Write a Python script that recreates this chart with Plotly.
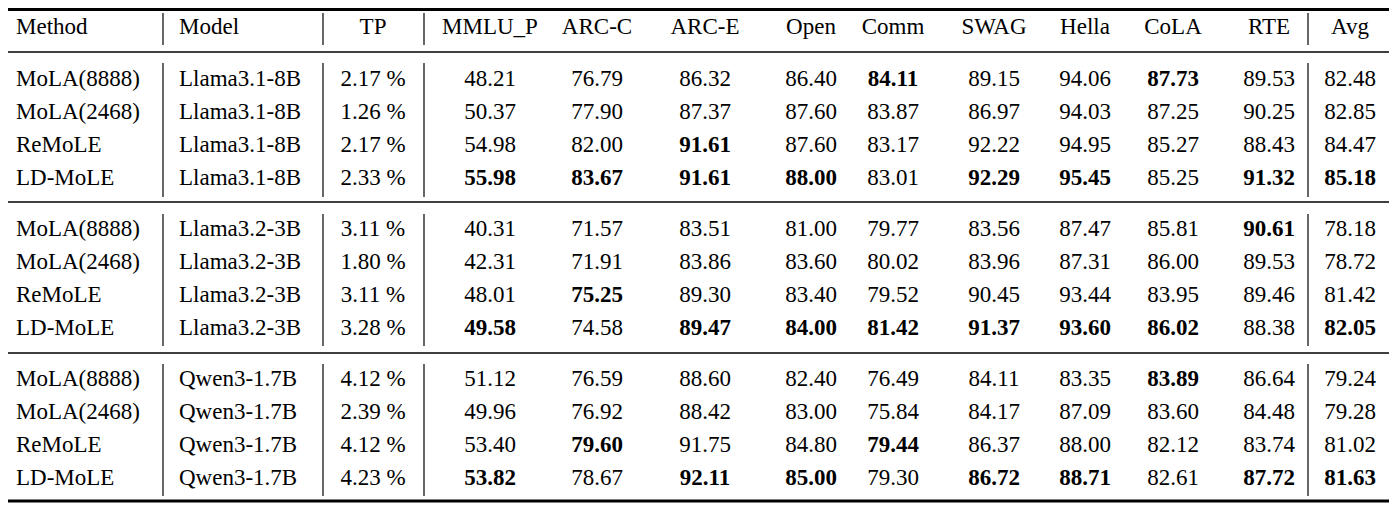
import plotly.graph_objects as go

methods = ["MoLA(8888)", "MoLA(2468)", "ReMoLE", "LD-MoLE"]
models = ["Llama3.1-8B", "Llama3.2-3B", "Qwen3-1.7B"]
tp = [[2.17, 1.26, 2.17, 2.33], [3.11, 1.80, 3.11, 3.28], [4.12, 2.39, 4.12, 4.23]]
metrics = ["MMLU_P", "ARC-C", "ARC-E", "Open", "Comm", "SWAG", "Hella", "CoLA", "RTE", "Avg"]
g1 = [[48.21, 76.79, 86.32, 86.40, 84.11, 89.15, 94.06, 87.73, 89.53, 82.48],
      [50.37, 77.90, 87.37, 87.60, 83.87, 86.97, 94.03, 87.25, 90.25, 82.85],
      [54.98, 82.00, 91.61, 87.60, 83.17, 92.22, 94.95, 85.27, 88.43, 84.47],
      [55.98, 83.67, 91.61, 88.00, 83.01, 92.29, 95.45, 85.25, 91.32, 85.18]]
g2 = [[40.31, 71.57, 83.51, 81.00, 79.77, 83.56, 87.47, 85.81, 90.61, 78.18],
      [42.31, 71.91, 83.86, 83.60, 80.02, 83.96, 87.31, 86.00, 89.53, 78.72],
      [48.01, 75.25, 89.30, 83.40, 79.52, 90.45, 93.44, 83.95, 89.46, 81.42],
      [49.58, 74.58, 89.47, 84.00, 81.42, 91.37, 93.60, 86.02, 88.38, 82.05]]
g3 = [[51.12, 76.59, 88.60, 82.40, 76.49, 84.11, 83.35, 83.89, 86.64, 79.24],
      [49.96, 76.92, 88.42, 83.00, 75.84, 84.17, 87.09, 83.60, 84.48, 79.28],
      [53.40, 79.60, 91.75, 84.80, 79.44, 86.37, 88.00, 82.12, 83.74, 81.02],
      [53.82, 78.67, 92.11, 85.00, 79.30, 86.72, 88.71, 82.61, 87.72, 81.63]]
groups = [g1, g2, g3]

# layout (pixel coordinates of the page; the page body has an 8px margin)
W, H = 1397, 506
OFF = 8
metric_x = [490, 597, 705, 811, 893, 994, 1085, 1173, 1269, 1350]
header_y = 28
group_y = [[80, 113, 146, 179], [230, 263, 296, 329], [380, 413, 446, 479]]
FONT = "Liberation Serif"
FS = 23

fig = go.Figure()
def add_text(xs, ys, texts, pos):
    fig.add_trace(go.Scatter(x=xs, y=ys, text=texts, mode="text", textposition=pos,
                             textfont=dict(family=FONT, size=FS, color="black"),
                             hoverinfo="skip", showlegend=False, cliponaxis=False))

add_text([16], [header_y], ["Method"], "middle right")
add_text([179], [header_y], ["Model"], "middle right")
add_text([373], [header_y], ["TP"], "middle center")
add_text(metric_x, [header_y] * len(metrics), metrics, "middle center")

for gi, g in enumerate(groups):
    ys = group_y[gi]
    add_text([16] * 4, ys, methods, "middle right")
    add_text([179] * 4, ys, [models[gi]] * 4, "middle right")
    add_text([373] * 4, ys, [f"{v:.2f} %" for v in tp[gi]], "middle center")
    for c in range(len(metrics)):
        col = [row[c] for row in g]
        mx = max(col)
        txt = [f"<b>{v:.2f}</b>" if v == mx else f"{v:.2f}" for v in col]
        add_text([metric_x[c]] * 4, ys, txt, "middle center")

shapes = []
def hline(y, w):
    shapes.append(dict(type="line", x0=OFF, x1=W, y0=y, y1=y, line=dict(color="black", width=w)))
hline(OFF + 1.5, 3)
hline(52, 1.5)
hline(202, 1.5)
hline(353, 1.5)
hline(501, 3)
vx = [163, 323, 424, 1308]
spans = [(13, 45), (63, 197), (214, 346), (364, 496)]
for x in vx:
    for y0, y1 in spans:
        shapes.append(dict(type="line", x0=x, x1=x, y0=y0, y1=y1, line=dict(color="black", width=1.2)))

fig.update_layout(width=W - OFF, height=H - OFF, margin=dict(l=0, r=0, t=0, b=0),
                  plot_bgcolor="white", paper_bgcolor="white", shapes=shapes,
                  xaxis=dict(range=[OFF, W], visible=False, fixedrange=True),
                  yaxis=dict(range=[H, OFF], visible=False, fixedrange=True))
fig.write_html("out.html", config={"displayModeBar": False})
